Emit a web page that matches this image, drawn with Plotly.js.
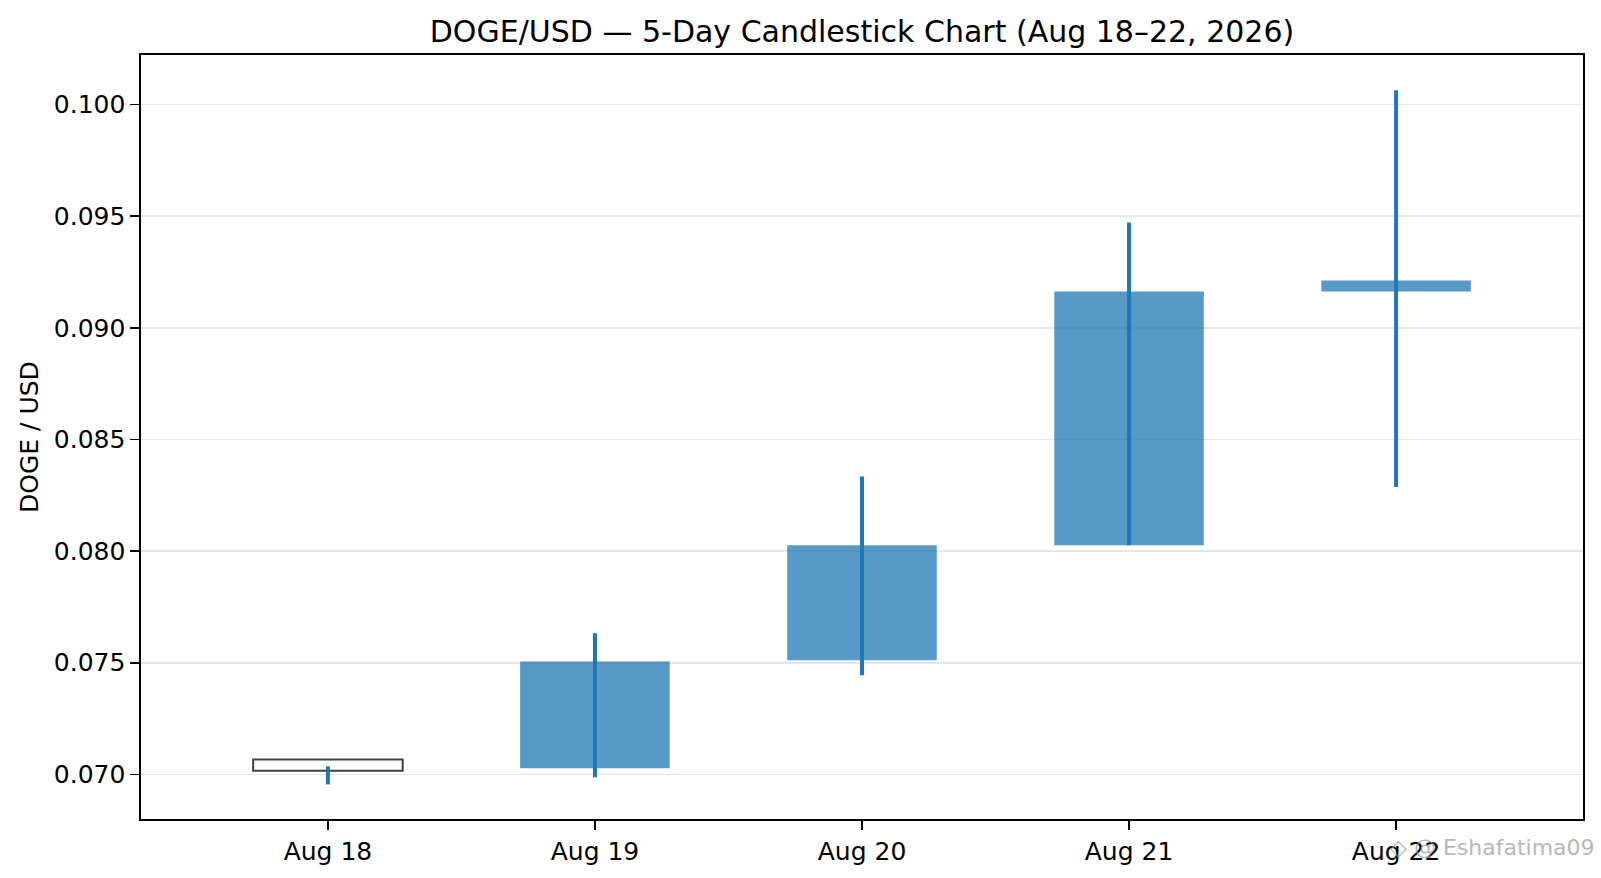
<!DOCTYPE html>
<html>
<head>
<meta charset="utf-8">
<script src="https://cdn.plot.ly/plotly-3.0.1.min.js"></script>
<style>
  html, body { margin: 0; padding: 0; background: #fff; }
  #chart { width: 1601px; height: 878px; }
</style>
</head>
<body>
<div id="chart"></div>
<script>
// 5일 OHLC 값
const days = ['Aug 18', 'Aug 19', 'Aug 20', 'Aug 21', 'Aug 22'];
const open_vals  = [0.07067, 0.07027, 0.07511, 0.08026, 0.09163];
const close_vals = [0.07016, 0.07506, 0.08026, 0.09163, 0.09212];
const high_vals  = [0.07036, 0.07632, 0.08334, 0.09472, 0.10064];
const low_vals   = [0.06955, 0.06987, 0.07444, 0.08026, 0.08287];

const FONT = '"DejaVu Sans", "Liberation Sans", sans-serif';
const BLUE = '#1f77b4';

function buildBodies(isUp) {
    const xs = [], base = [], h = [];
    days.forEach((d, i) => {
        const up = close_vals[i] >= open_vals[i];
        if (up !== isUp) return;
        xs.push(i);
        base.push(Math.min(open_vals[i], close_vals[i]));
        h.push(Math.abs(close_vals[i] - open_vals[i]));
    });
    return { xs, base, h };
}

function buildWicks() {
    const wx = [], wy = [];
    for (let i = 0; i < days.length; i++) {
        wx.push(i, i, null);
        wy.push(low_vals[i], high_vals[i], null);
    }
    return { wx, wy };
}

const up = buildBodies(true);
const down = buildBodies(false);
const { wx, wy } = buildWicks();

const traces = [
    {
        type: 'bar', x: up.xs, y: up.h, base: up.base, width: 0.56,
        marker: { color: 'rgba(31,119,180,0.75)', line: { width: 0 } },
        showlegend: false, hoverinfo: 'skip'
    },
    {
        type: 'bar', x: down.xs, y: down.h, base: down.base, width: 0.56,
        marker: { color: '#ffffff', line: { color: 'rgba(0,0,0,0.75)', width: 2 } },
        showlegend: false, hoverinfo: 'skip'
    },
    {
        type: 'scatter', mode: 'lines', x: wx, y: wy,
        line: { color: BLUE, width: 4 },
        showlegend: false, hoverinfo: 'skip'
    }
];

const layout = {
    width: 1601, height: 878,
    margin: { l: 141, r: 18, t: 55, b: 59 },
    paper_bgcolor: '#fff', plot_bgcolor: '#fff',
    barmode: 'overlay',
    font: { family: FONT, size: 25, color: '#000' },
    title: {
        text: 'DOGE/USD — 5-Day Candlestick Chart (Aug 18–22, 2026)',
        font: { family: FONT, size: 30, color: '#000' },
        x: 0.5, xref: 'paper', xanchor: 'center',
        y: 1 - 31 / 878, yref: 'container', yanchor: 'middle'
    },
    xaxis: {
        range: [-0.7, 4.7],
        tickvals: days.map((d, i) => i), ticktext: days,
        showgrid: false, zeroline: false,
        showline: true, mirror: true, linecolor: '#000', linewidth: 1.6,
        ticks: 'outside', ticklen: 9, tickwidth: 1.6, tickcolor: '#000',
        tickfont: { family: FONT, size: 25, color: '#000' }
    },
    yaxis: {
        range: [0.0680, 0.10222],
        tick0: 0, dtick: 0.005, tickformat: '.3f',
        showgrid: true, gridcolor: '#e6e6e6', gridwidth: 1.6,
        zeroline: false,
        showline: true, mirror: true, linecolor: '#000', linewidth: 1.6,
        ticks: 'outside', ticklen: 9, tickwidth: 1.6, tickcolor: '#000',
        tickfont: { family: FONT, size: 25, color: '#000' }
    },
    annotations: [
        {
            text: 'DOGE / USD', textangle: -90,
            xref: 'paper', yref: 'paper',
            x: (29 - 141) / 1442, y: 0.5,
            xanchor: 'center', yanchor: 'middle', showarrow: false,
            font: { family: FONT, size: 25, color: '#000' }
        },
        {
            text: '◇ @ Eshafatima09',
            xref: 'paper', yref: 'paper',
            x: (1597 - 141) / 1442, y: -(847 - 818.7) / 763.7,
            xanchor: 'right', yanchor: 'middle', showarrow: false,
            font: { family: FONT, size: 22, color: 'rgba(160,160,160,0.75)' }
        }
    ]
};

Plotly.newPlot('chart', traces, layout, { staticPlot: true, displayModeBar: false });
</script>
</body>
</html>
